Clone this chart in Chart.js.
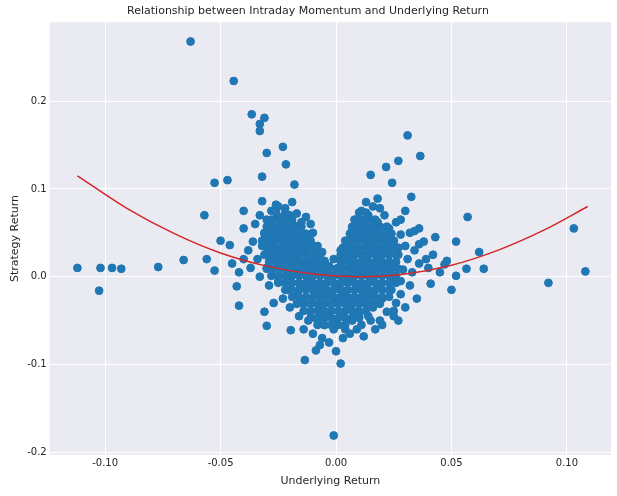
<!DOCTYPE html>
<html><head><meta charset="utf-8">
<script src="https://cdn.jsdelivr.net/npm/chart.js@4"></script>
<style>html,body{margin:0;padding:0;background:#fff}#c{width:617px;height:496px}</style>
</head><body><div id="c"><canvas id="cv" width="617" height="496"></canvas></div>
<script>
const outliers=[[-0.063,0.268],[-0.0443,0.223],[-0.112,0.010],[-0.1026,-0.016],[-0.102,0.010],[-0.097,0.010],[-0.093,0.009],[-0.077,0.011],[-0.066,0.019],[-0.057,0.070],[-0.0526,0.107],[-0.047,0.110],[-0.0365,0.185],[-0.031,0.181],[-0.033,0.174],[-0.033,0.166],[-0.030,0.141],[-0.023,0.148],[0.031,0.161],[0.0365,0.1375],[0.0217,0.125],[0.027,0.132],[-0.001,-0.181],[0.002,-0.099],[-0.0135,-0.095],[0.092,-0.007],[0.103,0.055],[0.108,0.006],[0.057,0.068],[0.052,0.040],[0.062,0.028],[0.064,0.009],[0.0565,0.009],[0.050,-0.015],[0.047,0.014],[0.052,0.001],[-0.05,0.041],[-0.046,0.036],[-0.0526,0.007],[-0.056,0.020],[-0.043,-0.011],[-0.042,-0.033],[-0.030,-0.056],[-0.0196,-0.061],[-0.007,-0.078],[-0.0087,-0.084],[0.025,-0.039],[0.041,-0.008],[0.048,0.018],[0.034,0.052],[0.036,0.037],[0.0326,0.091],[0.0243,0.107],[0.015,0.116],[0.018,0.089],[-0.0217,0.128],[-0.018,0.105],[-0.032,0.114],[-0.032,0.086],[-0.026,0.082],[-0.040,0.075],[-0.040,0.055]];
const leftArm=[[-0.035,0.06],[-0.033,0.07],[-0.031,0.05],[-0.03,0.065],[-0.029,0.04],[-0.028,0.075],[-0.027,0.055],[-0.026,0.03],[-0.025,0.068],[-0.024,0.045],[-0.023,0.06],[-0.022,0.02],[-0.021,0.052],[-0.02,0.07],[-0.019,0.038],[-0.018,0.058],[-0.017,0.025],[-0.016,0.048],[-0.015,0.062],[-0.014,0.032],[-0.013,0.045],[-0.012,0.015],[-0.011,0.038],[-0.01,0.05],[-0.009,0.022],[-0.008,0.035],[-0.007,0.01],[-0.006,0.028],[-0.005,0.018],[-0.004,0.005],[-0.036,0.04],[-0.038,0.03],[-0.04,0.02],[-0.037,0.01],[-0.034,0.02],[-0.032,0.035],[-0.03,0.01],[-0.028,0.02],[-0.026,0.045],[-0.024,0.01],[-0.022,0.035],[-0.02,0.0],[-0.018,0.01],[-0.016,0.005],[-0.014,0.015],[-0.012,0.0],[-0.01,0.008],[-0.025,0.08],[-0.022,0.078],[-0.019,0.085],[-0.017,0.072],[-0.013,0.068],[-0.011,0.06],[-0.045,0.015],[-0.042,0.005],[-0.033,0.0],[-0.029,-0.01],[-0.025,-0.005],[-0.021,-0.015]];
const bottomMass=[[-0.018,-0.02],[-0.015,-0.03],[-0.013,-0.01],[-0.011,-0.04],[-0.009,-0.02],[-0.008,-0.05],[-0.007,-0.01],[-0.006,-0.035],[-0.005,-0.055],[-0.004,-0.02],[-0.003,-0.04],[-0.002,0.0],[-0.001,-0.06],[0,-0.03],[0.001,-0.01],[0.002,-0.045],[0.003,-0.02],[0.004,-0.06],[0.005,-0.035],[0.006,-0.005],[0.007,-0.05],[0.008,-0.025],[0.009,-0.04],[0.01,-0.01],[0.011,-0.055],[0.012,-0.03],[0.013,-0.015],[0.014,-0.045],[0.015,-0.02],[0.016,-0.035],[0.018,-0.01],[0.019,-0.05],[0.02,-0.025],[0.022,-0.04],[0.024,-0.015],[0.026,-0.03],[0.028,-0.02],[0.03,-0.035],[0.032,-0.01],[0.035,-0.025],[-0.016,-0.045],[-0.014,-0.06],[-0.012,-0.05],[-0.01,-0.065],[-0.006,-0.07],[-0.003,-0.075],[0.0,-0.085],[0.003,-0.07],[0.006,-0.065],[0.009,-0.06],[0.012,-0.068],[0.017,-0.06],[-0.02,-0.035],[-0.023,-0.025],[-0.027,-0.03],[-0.031,-0.04],[0.001,0.01],[0.004,0.0],[0.007,0.015],[-0.001,0.02],[0.002,0.03],[-0.003,0.012],[0.0,-0.05],[0.002,-0.015],[-0.007,-0.045],[0.005,-0.025],[0.01,-0.045],[0.015,-0.05],[0.02,-0.055],[0.025,-0.045],[0.027,-0.05]];
const rightArm=[[0.005,0.02],[0.006,0.04],[0.007,0.055],[0.008,0.03],[0.009,0.065],[0.01,0.045],[0.011,0.075],[0.012,0.02],[0.013,0.055],[0.014,0.07],[0.015,0.035],[0.016,0.08],[0.017,0.05],[0.018,0.062],[0.019,0.025],[0.02,0.045],[0.021,0.07],[0.022,0.035],[0.023,0.055],[0.024,0.015],[0.025,0.04],[0.026,0.062],[0.027,0.025],[0.028,0.048],[0.029,0.008],[0.03,0.035],[0.031,0.02],[0.032,0.05],[0.033,0.005],[0.034,0.03],[0.036,0.015],[0.038,0.04],[0.04,0.01],[0.042,0.025],[0.045,0.005],[0.009,0.005],[0.012,0.01],[0.016,0.0],[0.02,0.01],[0.024,0.0],[0.028,-0.005],[0.018,0.015],[0.014,0.005],[0.013,0.085],[0.019,0.078],[0.028,0.065],[0.01,0.06],[0.03,0.075],[0.036,0.055],[0.039,0.02],[0.043,0.045]];
// dense core: each row = [y, x values]
const coreRows=[
 [0.073,[-0.026,-0.022,0.010,0.013]],
 [0.065,[-0.028,-0.025,-0.022,-0.019,0.008,0.011,0.014,0.017]],
 [0.057,[-0.030,-0.027,-0.024,-0.021,-0.018,-0.015,0.007,0.010,0.013,0.016,0.019,0.022]],
 [0.049,[-0.031,-0.028,-0.025,-0.022,-0.019,-0.016,-0.013,0.006,0.009,0.012,0.015,0.018,0.021,0.024]],
 [0.041,[-0.032,-0.029,-0.026,-0.023,-0.020,-0.017,-0.014,-0.011,0.004,0.007,0.010,0.013,0.016,0.019,0.022,0.025]],
 [0.033,[-0.030,-0.027,-0.024,-0.021,-0.018,-0.015,-0.012,-0.009,0.003,0.006,0.009,0.012,0.015,0.018,0.021,0.024,0.027]],
 [0.025,[-0.031,-0.028,-0.025,-0.022,-0.019,-0.016,-0.013,-0.010,-0.007,0.002,0.005,0.008,0.011,0.014,0.017,0.020,0.023,0.026]],
 [0.017,[-0.029,-0.026,-0.023,-0.020,-0.017,-0.014,-0.011,-0.008,-0.005,0.002,0.005,0.008,0.011,0.014,0.017,0.020,0.023,0.026]],
 [0.009,[-0.030,-0.027,-0.024,-0.021,-0.018,-0.015,-0.012,-0.009,-0.006,-0.003,0.000,0.003,0.006,0.009,0.012,0.015,0.018,0.021,0.024,0.027]],
 [0.001,[-0.028,-0.025,-0.022,-0.019,-0.016,-0.013,-0.010,-0.007,-0.004,-0.001,0.002,0.005,0.008,0.011,0.014,0.017,0.020,0.023,0.026]],
 [-0.007,[-0.025,-0.022,-0.019,-0.016,-0.013,-0.010,-0.007,-0.004,-0.001,0.002,0.005,0.008,0.011,0.014,0.017,0.020,0.023,0.026]],
 [-0.015,[-0.022,-0.019,-0.016,-0.013,-0.010,-0.007,-0.004,-0.001,0.002,0.005,0.008,0.011,0.014,0.017,0.020,0.023]],
 [-0.023,[-0.019,-0.016,-0.013,-0.010,-0.007,-0.004,-0.001,0.002,0.005,0.008,0.011,0.014,0.017,0.020,0.023]],
 [-0.031,[-0.017,-0.014,-0.011,-0.008,-0.005,-0.002,0.001,0.004,0.007,0.010,0.013,0.016,0.019]],
 [-0.039,[-0.014,-0.011,-0.008,-0.005,-0.002,0.001,0.004,0.007,0.010,0.013]],
 [-0.047,[-0.011,-0.008,-0.005,-0.002,0.001,0.004,0.007,0.010]],
 [-0.055,[-0.008,-0.005,-0.002,0.001,0.004]]
];
const curveX=[-0.112,-0.09,-0.07,-0.05,-0.03,-0.01,0.01,0.03,0.05,0.07,0.09,0.109];
const curveY=[0.115,0.077,0.049,0.027,0.012,0.003,0.0,0.003,0.013,0.030,0.053,0.080];
const xTicks=[-0.10,-0.05,0.00,0.05,0.10];
const yTicks=[-0.2,-0.1,0.0,0.1,0.2];

const corePts=[];coreRows.forEach(r=>r[1].forEach(x=>corePts.push([x,r[0]])));
const pts=[...outliers,...leftArm,...bottomMass,...rightArm,...corePts].map(p=>({x:p[0],y:p[1]}));
const curve=curveX.map((x,i)=>({x,y:curveY[i]}));
const bg={id:'bg',beforeDraw(c){const a=c.chartArea,g=c.ctx;g.save();g.fillStyle='#eaeaf2';g.fillRect(a.left,a.top,a.right-a.left,a.bottom-a.top);g.restore();}};
Chart.defaults.font.family='DejaVu Sans';Chart.defaults.color='#262626';
new Chart(document.getElementById('cv'),{
 type:'scatter',
 data:{datasets:[
  {data:curve,type:'line',borderColor:'#d62728',borderWidth:1.5,pointRadius:0,tension:0.4,cubicInterpolationMode:'monotone',order:0},
  {data:pts,backgroundColor:'#1f77b4',borderColor:'#1f77b4',pointRadius:3.9,order:1}
 ]},
 options:{responsive:false,animation:false,
  layout:{padding:{left:5,right:6,top:0,bottom:4}},
  plugins:{legend:{display:false},tooltip:{enabled:false},
   title:{display:true,text:'Relationship between Intraday Momentum and Underlying Return',font:{size:11,weight:'normal'},padding:{top:5,bottom:4}}},
  scales:{
   x:{type:'linear',min:-0.124,max:0.1191,afterBuildTicks(s){s.ticks=xTicks.map(v=>({value:v}));},
      ticks:{font:{size:10},callback:v=>v.toFixed(2),maxRotation:0},grid:{color:'#fff',lineWidth:1,drawTicks:false},border:{display:false},
      title:{display:true,text:'Underlying Return',font:{size:11},padding:{top:2}}},
   y:{type:'linear',min:-0.203,max:0.29,afterBuildTicks(s){s.ticks=yTicks.map(v=>({value:v}));},
      ticks:{font:{size:10},callback:v=>v.toFixed(1),padding:3},grid:{color:'#fff',lineWidth:1,drawTicks:false},border:{display:false},
      title:{display:true,text:'Strategy Return',font:{size:11},padding:{top:4,bottom:2}}}
  }},
 plugins:[bg]
});
</script></body></html>
